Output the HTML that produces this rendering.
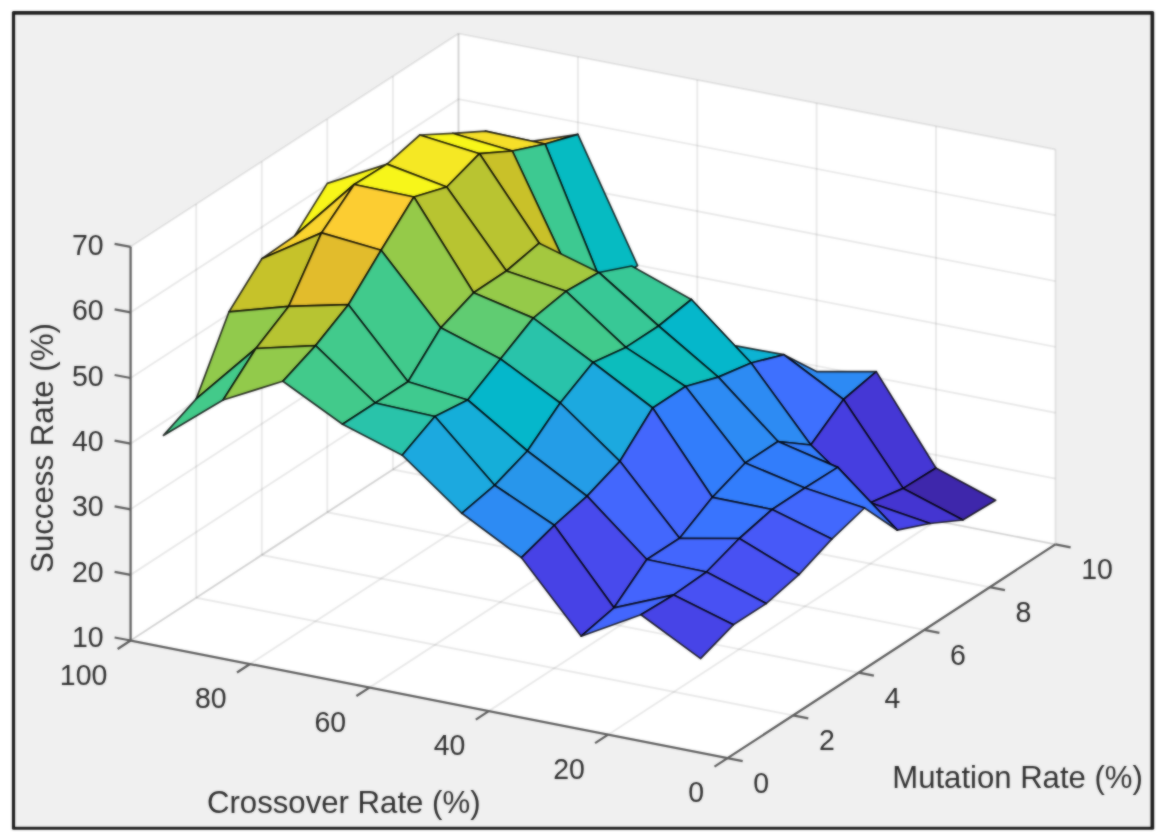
<!DOCTYPE html>
<html lang="en">
<head>
<meta charset="utf-8">
<title>Success Rate vs Crossover Rate and Mutation Rate</title>
<style>
html,body{margin:0;padding:0;background:#fff;}
body{width:1163px;height:839px;overflow:hidden;position:relative;font-family:"Liberation Sans",sans-serif;}
svg{position:absolute;left:0;top:0;}
#wrap{position:absolute;left:0;top:0;width:1163px;height:839px;}
</style>
</head>
<body>
<div id="wrap">
<svg width="1163" height="839" viewBox="0 0 1163 839">
<defs><filter id="soft" x="0" y="0" width="1163" height="839" filterUnits="userSpaceOnUse" color-interpolation-filters="sRGB"><feGaussianBlur stdDeviation="0.85" result="b"/><feComposite in="SourceGraphic" in2="b" operator="arithmetic" k1="0" k2="0.4" k3="0.6" k4="0"/></filter></defs>
<g filter="url(#soft)">
<rect x="11.9" y="10.9" width="1142.3" height="818.9" rx="1.5" fill="#1c1c1c"/>
<rect x="15.1" y="14.7" width="1135.4" height="812.1" fill="#f0f0f0"/>
<polygon points="130.6,640.5 130.6,246.8 458.5,33.6 458.5,426.7" fill="#fff"/>
<polygon points="458.5,426.7 458.5,33.6 1055.4,149.5 1055.4,544.4" fill="#fff"/>
<polygon points="130.6,640.5 727.5,758.2 1055.4,544.4 458.5,426.7" fill="#fff"/>
<g stroke="#262626" stroke-opacity="0.1" stroke-width="1.9" fill="none">
<line x1="727.5" y1="758.2" x2="1055.4" y2="544.4"/>
<line x1="1055.4" y1="544.4" x2="1055.4" y2="149.5"/>
<line x1="608.1" y1="734.7" x2="936.0" y2="520.9"/>
<line x1="936.0" y1="520.9" x2="936.0" y2="126.3"/>
<line x1="488.7" y1="711.1" x2="816.6" y2="497.3"/>
<line x1="816.6" y1="497.3" x2="816.6" y2="103.1"/>
<line x1="369.4" y1="687.6" x2="697.3" y2="473.8"/>
<line x1="697.3" y1="473.8" x2="697.3" y2="79.9"/>
<line x1="250.0" y1="664.0" x2="577.9" y2="450.2"/>
<line x1="577.9" y1="450.2" x2="577.9" y2="56.8"/>
<line x1="130.6" y1="640.5" x2="458.5" y2="426.7"/>
<line x1="458.5" y1="426.7" x2="458.5" y2="33.6"/>
<line x1="727.5" y1="758.2" x2="130.6" y2="640.5"/>
<line x1="130.6" y1="640.5" x2="130.6" y2="246.8"/>
<line x1="793.1" y1="715.4" x2="196.2" y2="597.7"/>
<line x1="196.2" y1="597.7" x2="196.2" y2="204.1"/>
<line x1="858.7" y1="672.7" x2="261.8" y2="555.0"/>
<line x1="261.8" y1="555.0" x2="261.8" y2="161.5"/>
<line x1="924.2" y1="629.9" x2="327.3" y2="512.2"/>
<line x1="327.3" y1="512.2" x2="327.3" y2="118.9"/>
<line x1="989.8" y1="587.2" x2="392.9" y2="469.5"/>
<line x1="392.9" y1="469.5" x2="392.9" y2="76.2"/>
<line x1="1055.4" y1="544.4" x2="458.5" y2="426.7"/>
<line x1="458.5" y1="426.7" x2="458.5" y2="33.6"/>
<line x1="130.6" y1="640.5" x2="458.5" y2="426.7"/>
<line x1="458.5" y1="426.7" x2="1055.4" y2="544.4"/>
<line x1="130.6" y1="574.9" x2="458.5" y2="361.2"/>
<line x1="458.5" y1="361.2" x2="1055.4" y2="478.6"/>
<line x1="130.6" y1="509.3" x2="458.5" y2="295.7"/>
<line x1="458.5" y1="295.7" x2="1055.4" y2="412.8"/>
<line x1="130.6" y1="443.6" x2="458.5" y2="230.1"/>
<line x1="458.5" y1="230.1" x2="1055.4" y2="346.9"/>
<line x1="130.6" y1="378.0" x2="458.5" y2="164.6"/>
<line x1="458.5" y1="164.6" x2="1055.4" y2="281.1"/>
<line x1="130.6" y1="312.4" x2="458.5" y2="99.1"/>
<line x1="458.5" y1="99.1" x2="1055.4" y2="215.3"/>
<line x1="130.6" y1="246.8" x2="458.5" y2="33.6"/>
<line x1="458.5" y1="33.6" x2="1055.4" y2="149.5"/>
</g>
<g stroke="#000" stroke-opacity="0.8" stroke-width="1.7" stroke-linejoin="round">
<polygon points="294.6,236.0 354.2,184.5 387.0,164.1 327.3,183.4" fill="#f8f619"/>
<polygon points="261.8,258.7 321.5,232.9 354.2,184.5 294.6,236.0" fill="#fad42e"/>
<polygon points="229.0,311.8 288.7,306.4 321.5,232.9 261.8,258.7" fill="#c6c22a"/>
<polygon points="196.2,398.9 255.9,348.5 288.7,306.4 229.0,311.8" fill="#91ca4c"/>
<polygon points="163.4,435.4 223.1,400.0 255.9,348.5 196.2,398.9" fill="#43ca8a"/>
<polygon points="485.4,131.2 545.1,144.0 577.9,134.4 518.2,143.4" fill="#fdcd32"/>
<polygon points="452.6,133.3 512.3,151.0 545.1,144.0 485.4,131.2" fill="#f6df29"/>
<polygon points="419.8,135.0 479.5,153.7 512.3,151.0 452.6,133.3" fill="#f8f619"/>
<polygon points="387.0,164.1 446.7,187.0 479.5,153.7 419.8,135.0" fill="#f5e824"/>
<polygon points="354.2,184.5 413.9,197.0 446.7,187.0 387.0,164.1" fill="#f7f61a"/>
<polygon points="321.5,232.9 381.1,250.3 413.9,197.0 354.2,184.5" fill="#fccd32"/>
<polygon points="288.7,306.4 348.4,304.7 381.1,250.3 321.5,232.9" fill="#e2bc2c"/>
<polygon points="255.9,348.5 315.6,345.6 348.4,304.7 288.7,306.4" fill="#b7c432"/>
<polygon points="223.1,400.0 282.8,381.3 315.6,345.6 255.9,348.5" fill="#92ca4b"/>
<polygon points="545.1,144.0 604.8,291.0 637.6,265.5 577.9,134.4" fill="#06bbc2"/>
<polygon points="512.3,151.0 572.0,278.0 604.8,291.0 545.1,144.0" fill="#3dc991"/>
<polygon points="479.5,153.7 539.2,243.2 572.0,278.0 512.3,151.0" fill="#c9c129"/>
<polygon points="446.7,187.0 506.4,271.0 539.2,243.2 479.5,153.7" fill="#b9c431"/>
<polygon points="413.9,197.0 473.6,292.8 506.4,271.0 446.7,187.0" fill="#b8c431"/>
<polygon points="381.1,250.3 440.8,327.8 473.6,292.8 413.9,197.0" fill="#95ca49"/>
<polygon points="348.4,304.7 408.0,381.8 440.8,327.8 381.1,250.3" fill="#41ca8c"/>
<polygon points="315.6,345.6 375.2,403.0 408.0,381.8 348.4,304.7" fill="#42ca8c"/>
<polygon points="282.8,381.3 342.5,424.2 375.2,403.0 315.6,345.6" fill="#42ca8b"/>
<polygon points="506.4,271.0 566.1,291.3 598.9,272.5 539.2,243.2" fill="#a4c83f"/>
<polygon points="473.6,292.8 533.3,318.1 566.1,291.3 506.4,271.0" fill="#95ca49"/>
<polygon points="440.8,327.8 500.5,359.0 533.3,318.1 473.6,292.8" fill="#60cc72"/>
<polygon points="408.0,381.8 467.7,400.0 500.5,359.0 440.8,327.8" fill="#38c897"/>
<polygon points="375.2,403.0 434.9,416.5 467.7,400.0 408.0,381.8" fill="#3fca8f"/>
<polygon points="342.5,424.2 402.2,455.2 434.9,416.5 375.2,403.0" fill="#29c3aa"/>
<polygon points="598.9,272.5 658.6,326.0 691.4,299.5 631.7,266.0" fill="#38c896"/>
<polygon points="566.1,291.3 625.8,347.4 658.6,326.0 598.9,272.5" fill="#38c896"/>
<polygon points="533.3,318.1 593.0,362.5 625.8,347.4 566.1,291.3" fill="#41ca8c"/>
<polygon points="500.5,359.0 560.2,403.0 593.0,362.5 533.3,318.1" fill="#29c3aa"/>
<polygon points="467.7,400.0 527.4,451.0 560.2,403.0 500.5,359.0" fill="#05b7cb"/>
<polygon points="434.9,416.5 494.6,485.3 527.4,451.0 467.7,400.0" fill="#15aed9"/>
<polygon points="402.2,455.2 461.8,513.3 494.6,485.3 434.9,416.5" fill="#1ca9df"/>
<polygon points="691.4,299.5 751.1,363.0 783.9,354.7 724.2,343.7" fill="#0db3d3"/>
<polygon points="658.6,326.0 718.3,377.1 751.1,363.0 691.4,299.5" fill="#05b7cb"/>
<polygon points="625.8,347.4 685.5,386.5 718.3,377.1 658.6,326.0" fill="#0cbdbd"/>
<polygon points="593.0,362.5 652.7,408.0 685.5,386.5 625.8,347.4" fill="#0cbdbd"/>
<polygon points="560.2,403.0 619.9,461.3 652.7,408.0 593.0,362.5" fill="#1ca9df"/>
<polygon points="527.4,451.0 587.1,496.2 619.9,461.3 560.2,403.0" fill="#249de7"/>
<polygon points="494.6,485.3 554.3,525.3 587.1,496.2 527.4,451.0" fill="#2896eb"/>
<polygon points="461.8,513.3 521.5,557.7 554.3,525.3 494.6,485.3" fill="#2d8bf3"/>
<polygon points="783.9,354.7 843.5,399.5 876.3,371.6 816.6,371.6" fill="#2d8af4"/>
<polygon points="751.1,363.0 810.8,445.0 843.5,399.5 783.9,354.7" fill="#3e70fe"/>
<polygon points="718.3,377.1 778.0,441.5 810.8,445.0 751.1,363.0" fill="#2d8bf3"/>
<polygon points="685.5,386.5 745.2,463.0 778.0,441.5 718.3,377.1" fill="#2d8bf4"/>
<polygon points="652.7,408.0 712.4,497.3 745.2,463.0 685.5,386.5" fill="#327dfb"/>
<polygon points="619.9,461.3 679.6,538.3 712.4,497.3 652.7,408.0" fill="#4367fd"/>
<polygon points="587.1,496.2 646.8,559.5 679.6,538.3 619.9,461.3" fill="#4367fd"/>
<polygon points="554.3,525.3 614.0,607.8 646.8,559.5 587.1,496.2" fill="#484aed"/>
<polygon points="521.5,557.7 581.2,636.2 614.0,607.8 554.3,525.3" fill="#4742e6"/>
<polygon points="843.5,399.5 903.2,488.4 936.0,468.0 876.3,371.6" fill="#4537d5"/>
<polygon points="810.8,445.0 870.4,502.8 903.2,488.4 843.5,399.5" fill="#463ee0"/>
<polygon points="778.0,441.5 837.7,467.4 870.4,502.8 810.8,445.0" fill="#327cfc"/>
<polygon points="745.2,463.0 804.9,488.0 837.7,467.4 778.0,441.5" fill="#327dfb"/>
<polygon points="712.4,497.3 772.1,509.5 804.9,488.0 745.2,463.0" fill="#327dfc"/>
<polygon points="679.6,538.3 739.3,538.5 772.1,509.5 712.4,497.3" fill="#3974fe"/>
<polygon points="646.8,559.5 706.5,572.0 739.3,538.5 679.6,538.3" fill="#4366fd"/>
<polygon points="614.0,607.8 673.7,594.9 706.5,572.0 646.8,559.5" fill="#4464fd"/>
<polygon points="581.2,636.2 640.9,614.7 673.7,594.9 614.0,607.8" fill="#4366fd"/>
<polygon points="903.2,488.4 962.9,520.0 995.7,500.2 936.0,468.0" fill="#3e27ab"/>
<polygon points="870.4,502.8 930.1,523.5 962.9,520.0 903.2,488.4" fill="#4435d1"/>
<polygon points="837.7,467.4 897.3,530.2 930.1,523.5 870.4,502.8" fill="#4744e7"/>
<polygon points="804.9,488.0 864.5,508.0 897.3,530.2 837.7,467.4" fill="#3a74fe"/>
<polygon points="772.1,509.5 831.8,539.1 864.5,508.0 804.9,488.0" fill="#4268fd"/>
<polygon points="739.3,538.5 799.0,574.6 831.8,539.1 772.1,509.5" fill="#4759f8"/>
<polygon points="706.5,572.0 766.2,603.6 799.0,574.6 739.3,538.5" fill="#4851f3"/>
<polygon points="673.7,594.9 733.4,624.8 766.2,603.6 706.5,572.0" fill="#4851f3"/>
<polygon points="640.9,614.7 700.6,658.6 733.4,624.8 673.7,594.9" fill="#4744e7"/>
</g>
<g stroke="#5c5c5c" stroke-width="2.2" fill="none" stroke-linecap="butt">
<polyline points="130.6,246.8 130.6,640.5 727.5,758.2 1055.4,544.4"/>
<line x1="130.6" y1="640.5" x2="114.6" y2="637.5"/>
<line x1="130.6" y1="574.9" x2="114.6" y2="571.9"/>
<line x1="130.6" y1="509.3" x2="114.6" y2="506.3"/>
<line x1="130.6" y1="443.6" x2="114.6" y2="440.6"/>
<line x1="130.6" y1="378.0" x2="114.6" y2="375.0"/>
<line x1="130.6" y1="312.4" x2="114.6" y2="309.4"/>
<line x1="130.6" y1="246.8" x2="114.6" y2="243.8"/>
<line x1="727.5" y1="758.2" x2="714.5" y2="766.7"/>
<line x1="608.1" y1="734.7" x2="595.1" y2="743.1"/>
<line x1="488.7" y1="711.1" x2="475.8" y2="719.6"/>
<line x1="369.4" y1="687.6" x2="356.4" y2="696.0"/>
<line x1="250.0" y1="664.0" x2="237.0" y2="672.5"/>
<line x1="130.6" y1="640.5" x2="117.6" y2="649.0"/>
<line x1="727.5" y1="758.2" x2="742.7" y2="761.2"/>
<line x1="793.1" y1="715.4" x2="808.3" y2="718.4"/>
<line x1="858.7" y1="672.7" x2="873.9" y2="675.7"/>
<line x1="924.2" y1="629.9" x2="939.4" y2="632.9"/>
<line x1="989.8" y1="587.2" x2="1005.0" y2="590.2"/>
<line x1="1055.4" y1="544.4" x2="1070.6" y2="547.4"/>
</g>
<g font-family="'Liberation Sans', sans-serif" font-size="29.5" fill="#2e2e2e">
<text transform="translate(103.6,647.1) scale(0.965,1)" text-anchor="end">10</text>
<text transform="translate(103.6,581.8) scale(0.965,1)" text-anchor="end">20</text>
<text transform="translate(103.6,516.4) scale(0.965,1)" text-anchor="end">30</text>
<text transform="translate(103.6,451.1) scale(0.965,1)" text-anchor="end">40</text>
<text transform="translate(103.6,385.7) scale(0.965,1)" text-anchor="end">50</text>
<text transform="translate(103.6,320.4) scale(0.965,1)" text-anchor="end">60</text>
<text transform="translate(103.6,255.0) scale(0.965,1)" text-anchor="end">70</text>
<text transform="translate(704.2,802.4) scale(0.965,1)" text-anchor="end">0</text>
<text transform="translate(584.8,778.9) scale(0.965,1)" text-anchor="end">20</text>
<text transform="translate(465.4,755.3) scale(0.965,1)" text-anchor="end">40</text>
<text transform="translate(346.1,731.8) scale(0.965,1)" text-anchor="end">60</text>
<text transform="translate(226.7,708.2) scale(0.965,1)" text-anchor="end">80</text>
<text transform="translate(107.3,684.7) scale(0.965,1)" text-anchor="end">100</text>
<text transform="translate(753.3,793.0) scale(0.965,1)" text-anchor="start">0</text>
<text transform="translate(818.9,750.2) scale(0.965,1)" text-anchor="start">2</text>
<text transform="translate(884.5,707.5) scale(0.965,1)" text-anchor="start">4</text>
<text transform="translate(950.0,664.7) scale(0.965,1)" text-anchor="start">6</text>
<text transform="translate(1015.6,622.0) scale(0.965,1)" text-anchor="start">8</text>
<text transform="translate(1081.2,579.2) scale(0.965,1)" text-anchor="start">10</text>
</g>
<g font-family="'Liberation Sans', sans-serif" font-size="31.3" fill="#2e2e2e">
<text x="207" y="813.2" textLength="273.5" lengthAdjust="spacingAndGlyphs">Crossover Rate (%)</text>
<text x="892.3" y="787.8" textLength="250.5" lengthAdjust="spacingAndGlyphs">Mutation Rate (%)</text>
<text transform="translate(53.2,572.9) rotate(-90)" textLength="249.7" lengthAdjust="spacingAndGlyphs">Success Rate (%)</text>
</g>
</g>
</svg>
</div>
</body>
</html>
